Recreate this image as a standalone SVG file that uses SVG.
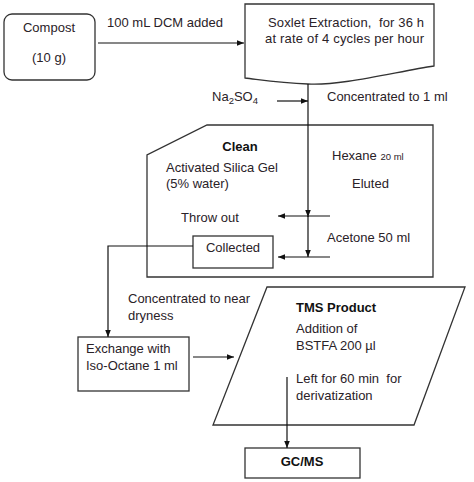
<svg xmlns="http://www.w3.org/2000/svg" width="474" height="482" viewBox="0 0 474 482">
<defs>
<marker id="ah" viewBox="0 0 10 10" refX="10" refY="5" markerWidth="7" markerHeight="7" orient="auto" markerUnits="userSpaceOnUse">
<path d="M0,1 L10,5 L0,9 z" fill="#111"/>
</marker>
</defs>
<style>
text{font-family:"Liberation Sans",Arial,sans-serif;font-size:13px;fill:#2a2228;white-space:pre}
.b{font-weight:bold;fill:#111}
.s{font-size:9.5px}
.shape{fill:#fff;stroke:#333;stroke-width:1.3}
.c{fill:none;stroke:#111;stroke-width:1.2}
.ar{fill:none;stroke:#111;stroke-width:1.2;marker-end:url(#ah)}
</style>
<rect width="474" height="482" fill="#fff"/>
<g id="compost">
<rect class="shape" x="4" y="14" width="91" height="66" rx="8"/>
<text x="49" y="32" text-anchor="middle">Compost</text>
<text x="49" y="62" text-anchor="middle">(10 g)</text>
</g>
<g id="soxlet">
<path class="shape" d="M245,4 L434,4 L434,66 C395,72 340,86 308,84 C280,83 262,80 245,78 Z"/>
<text x="268" y="27" textLength="156">Soxlet Extraction,  for 36 h</text>
<text x="265" y="43" textLength="159">at rate of 4 cycles per hour</text>
</g>
<g id="clean">
<path class="shape" d="M207,125 L433,125 L433,277 L147,277 L147,155 Z"/>
<text class="b" x="240" y="151" text-anchor="middle">Clean</text>
<text x="166" y="172">Activated Silica Gel</text>
<text x="166" y="188">(5% water)</text>
<text x="332" y="160">Hexane <tspan class="s">20 ml</tspan></text>
<text x="352" y="188">Eluted</text>
<text x="181" y="222">Throw out</text>
<text x="327" y="242">Acetone 50 ml</text>
</g>
<g id="collected">
<rect class="shape" x="193" y="236" width="80" height="32"/>
<text x="233" y="252" text-anchor="middle">Collected</text>
</g>
<g id="exchange">
<rect class="shape" x="78" y="337" width="111" height="54"/>
<text x="86" y="353">Exchange with</text>
<text x="86" y="370">Iso-Octane 1 ml</text>
</g>
<g id="tms">
<path class="shape" d="M267,287 L465,287 L414,425 L213,425 Z"/>
<text class="b" x="296" y="312">TMS Product</text>
<text x="296" y="333">Addition of</text>
<text x="296" y="350">BSTFA 200 µl</text>
<text x="296" y="383">Left for 60 min  for</text>
<text x="296" y="400">derivatization</text>
</g>
<g id="gcms">
<rect class="shape" x="245" y="448" width="115" height="30"/>
<text class="b" x="302" y="466" text-anchor="middle">GC/MS</text>
</g>
<g id="connectors">
<line class="ar" x1="98" y1="43" x2="244" y2="43"/>
<line class="ar" x1="308" y1="84" x2="308" y2="217"/>
<line class="ar" x1="308" y1="216" x2="308" y2="257"/>
<line class="ar" x1="277" y1="101" x2="308" y2="101"/>
<line class="ar" x1="330" y1="216" x2="278" y2="216"/>
<line class="ar" x1="330" y1="257" x2="278" y2="257"/>
<polyline class="ar" points="193,246 108,246 108,337"/>
<line class="ar" x1="193" y1="357" x2="234" y2="357"/>
<line class="ar" x1="287" y1="377" x2="287" y2="448"/>
</g>
<g id="labels">
<text x="107" y="27">100 mL DCM added</text>
<text x="212" y="101">Na<tspan class="s" dy="3">2</tspan><tspan dy="-3">SO</tspan><tspan class="s" dy="3">4</tspan></text>
<text x="327" y="101">Concentrated to 1 ml</text>
<text x="128" y="303">Concentrated to near</text>
<text x="128" y="320">dryness</text>
</g>
</svg>
